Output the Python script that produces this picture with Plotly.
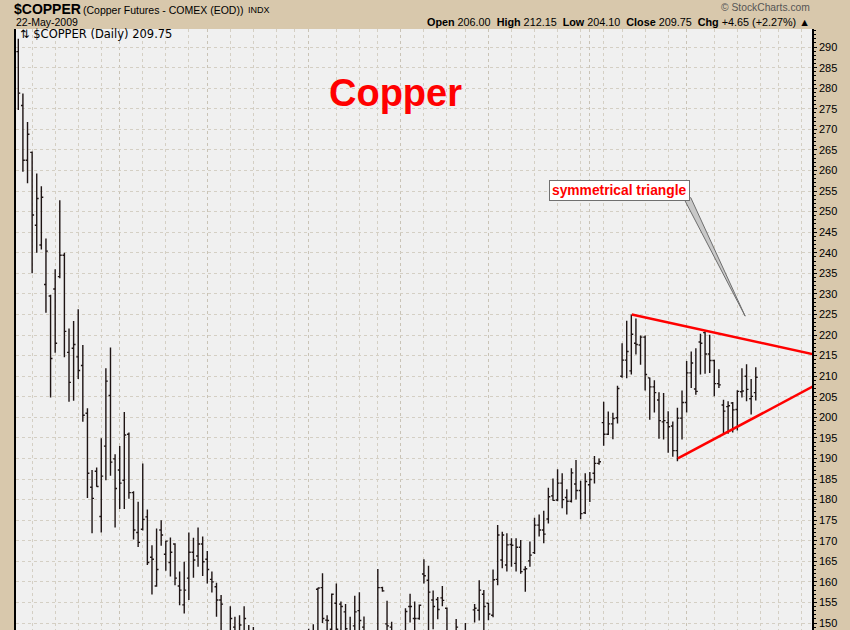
import plotly.graph_objects as go

# ---- data (trading-day index 0 = 2-Oct-2008 ... 160 = 22-May-2009) ----
opens = [288.9, 275.8, 262.5, 264.4, 246.7, 241.9, 232.3, 229.5, 231.2, 234.2,
         239.4, 215.8, 216.8, 214.7, 212.6, 201.0, 183.0, 186.9, 175.9, 193.0,
         205.3, 189.9, 187.2, 184.7, 195.9, 181.7, 172.0, 172.8, 175.8, 166.0,
         159.0, 172.6, 166.7, 164.7, 169.2, 159.0, 154.4, 160.9, 167.2, 166.3,
         169.2, 165.5, 160.6, 158.8, 155.6, 146.0, 145.0, 149.0, 147.0, 148.0,
         148.0, 144.0, 141.0, 139.0, 142.0, 138.0, 134.0, 136.0, 131.0, 132.0,
         134.0, 137.0, 140.0, 142.0, 146.0, 158.2, 158.6, 150.7, 148.5, 154.8,
         154.6, 152.7, 148.0, 149.3, 153.0, 149.0, 145.0, 142.0, 147.0, 158.6,
         149.8, 149.0, 146.0, 144.0, 147.0, 154.0, 151.1, 151.1, 161.9, 160.4,
         155.6, 155.7, 156.1, 153.6, 146.0, 146.0, 147.0, 145.0, 147.0, 153.2,
         153.1, 157.0, 154.8, 151.9, 160.6, 165.3, 164.1, 169.1, 164.5, 168.4,
         163.0, 165.1, 167.1, 173.8, 172.6, 175.3, 180.9, 179.9, 184.0, 180.5,
         179.6, 183.8, 182.2, 176.8, 183.6, 186.4, 188.8, 198.7, 195.9, 198.4,
         199.9, 210.0, 213.9, 211.3, 218.0, 217.6, 219.5, 209.6, 207.4, 204.2,
         198.9, 198.7, 197.9, 191.9, 199.8, 203.6, 210.8, 206.9, 218.3, 220.6,
         215.4, 213.8, 208.2, 203.0, 202.6, 203.5, 201.9, 206.2, 210.0, 204.5,
         206.0]
highs = [292.0, 278.7, 271.8, 264.6, 259.3, 256.2, 243.5, 229.8, 236.0, 252.8,
         240.0, 221.6, 223.4, 226.3, 217.6, 202.2, 187.2, 187.8, 194.9, 211.9,
         217.0, 191.0, 193.0, 201.3, 196.3, 182.0, 179.5, 188.8, 177.6, 168.9,
         173.0, 175.0, 170.0, 170.8, 169.4, 162.5, 164.9, 172.0, 170.7, 173.2,
         171.0, 167.5, 162.5, 159.8, 156.8, 147.5, 154.1, 151.5, 151.9, 154.1,
         149.5, 149.0, 146.0, 144.0, 147.0, 142.0, 139.0, 138.0, 134.0, 136.0,
         140.0, 143.0, 146.0, 148.6, 149.7, 158.6, 162.1, 151.9, 157.2, 159.6,
         155.2, 154.6, 151.5, 156.6, 157.5, 151.6, 147.5, 146.0, 163.1, 158.8,
         155.4, 150.3, 147.8, 147.5, 153.6, 157.1, 155.2, 154.5, 165.5, 163.9,
         157.9, 156.3, 159.0, 153.8, 147.5, 151.0, 147.9, 150.0, 147.9, 154.6,
         160.4, 158.0, 154.9, 163.0, 173.8, 172.2, 171.8, 170.6, 170.6, 170.2,
         163.8, 169.8, 175.6, 176.4, 177.3, 182.9, 185.1, 187.4, 186.4, 182.5,
         187.6, 189.6, 184.6, 186.4, 186.7, 190.6, 190.0, 203.8, 201.4, 201.1,
         207.7, 218.0, 223.5, 225.0, 224.0, 219.9, 219.9, 209.7, 209.0, 206.1,
         205.9, 201.5, 199.0, 202.3, 206.5, 213.7, 216.0, 216.8, 220.3, 220.9,
         220.1, 214.0, 211.7, 204.3, 203.9, 203.7, 206.6, 211.9, 212.9, 209.3,
         212.15]
lows = [274.7, 259.7, 256.9, 235.0, 240.0, 240.8, 225.4, 204.8, 215.7, 233.8,
        214.6, 203.8, 204.0, 209.3, 198.9, 180.4, 171.8, 183.1, 172.0, 184.7,
        185.8, 173.2, 177.7, 177.7, 180.2, 170.3, 168.5, 172.5, 164.1, 156.9,
        158.8, 168.8, 162.7, 161.3, 159.2, 154.3, 152.3, 155.6, 161.0, 163.7,
        161.4, 159.6, 157.4, 151.5, 146.0, 140.0, 144.0, 143.0, 145.0, 146.0,
        141.0, 139.0, 136.0, 134.0, 137.0, 132.0, 130.0, 128.0, 127.0, 129.0,
        131.0, 134.0, 137.0, 139.0, 141.0, 147.0, 150.0, 145.0, 147.0, 146.0,
        147.0, 146.0, 144.0, 147.0, 148.0, 144.0, 140.0, 138.0, 145.0, 157.6,
        148.0, 144.0, 141.0, 140.0, 146.0, 150.1, 147.0, 150.8, 159.6, 147.5,
        148.5, 150.9, 154.1, 146.0, 142.0, 144.0, 142.0, 143.0, 144.0, 150.1,
        150.6, 147.0, 150.7, 151.4, 159.2, 163.3, 162.5, 163.7, 162.5, 162.0,
        157.6, 163.7, 166.8, 171.0, 169.4, 174.2, 179.7, 179.6, 177.9, 176.4,
        179.3, 180.0, 175.2, 176.5, 179.4, 183.9, 188.5, 193.1, 195.7, 194.7,
        198.5, 209.6, 209.5, 210.4, 215.3, 212.8, 206.5, 199.4, 201.2, 194.8,
        194.6, 191.4, 190.4, 189.3, 194.6, 201.2, 207.1, 205.5, 210.4, 210.6,
        210.8, 205.1, 207.1, 196.2, 196.0, 196.3, 196.8, 204.8, 203.9, 200.7,
        204.1]
closes = [278.8, 262.5, 268.8, 249.2, 253.2, 253.5, 240.4, 214.3, 218.0, 239.4,
          220.9, 208.5, 217.7, 211.4, 200.5, 186.4, 180.3, 183.2, 185.7, 208.8,
          189.1, 182.7, 184.0, 195.7, 181.7, 172.6, 169.6, 175.2, 164.7, 165.5,
          163.0, 171.4, 169.9, 167.2, 160.9, 158.0, 158.0, 167.2, 165.3, 169.2,
          164.9, 163.0, 160.0, 155.6, 154.6, 142.0, 151.1, 147.0, 149.5, 151.1,
          143.0, 141.0, 138.0, 142.0, 139.0, 134.0, 137.0, 130.0, 132.0, 134.0,
          138.0, 141.0, 141.0, 147.0, 148.0, 158.5, 151.1, 150.6, 157.0, 148.5,
          154.0, 148.6, 146.0, 152.7, 150.6, 146.0, 142.0, 144.0, 158.6, 157.8,
          149.3, 146.0, 144.0, 145.0, 152.8, 154.0, 151.1, 154.3, 161.5, 157.5,
          154.0, 153.3, 155.5, 147.0, 145.0, 149.0, 144.0, 148.0, 146.0, 153.6,
          158.0, 154.0, 152.2, 160.5, 171.4, 171.4, 169.0, 168.9, 168.4, 162.5,
          163.2, 166.5, 173.8, 172.6, 171.6, 180.7, 179.8, 184.0, 180.0, 179.6,
          186.5, 182.2, 176.6, 184.4, 184.9, 188.8, 189.2, 195.9, 198.4, 199.7,
          207.0, 213.9, 216.0, 220.2, 217.7, 219.5, 210.4, 207.4, 206.0, 199.2,
          199.2, 197.7, 191.9, 199.8, 203.6, 210.8, 213.2, 206.3, 218.0, 215.4,
          213.8, 208.2, 207.9, 201.5, 202.8, 201.8, 206.3, 206.4, 206.8, 205.1,
          209.75]
bar_index = list(range(len(closes)))

# grid positions (bar index of first session of week / month)
month_grid = [22, 41, 63, 83, 102, 124, 145]
week_grid = [3, 8, 13, 18, 27, 32, 37, 46, 51, 56, 60, 69, 74, 78, 88, 93, 97,
             107, 112, 117, 122, 127, 131, 136, 141, 151, 156, 161, 165, 170]
price_ticks = list(range(150, 295, 5))

# analyst trend lines (bar index, price)
upper_line_x = [133.1, 173.0]
upper_line_y = [225.0, 215.2]
lower_line_x = [143.1, 173.9]
lower_line_y = [190.0, 208.4]
# callout
label_pos = (130.5, 255.2)
pointer_base_x = [144.3, 145.9]
pointer_base_y = 253.4
pointer_tip = (157.7, 224.6)

TAN = "#D8C8AC"
PLOTBG = "#F0F0F0"
GRID = "#D4CFC4"
BAR = "#1E1414"

fig = go.Figure()
fig.add_trace(go.Ohlc(
    x=bar_index, open=opens, high=highs, low=lows, close=closes,
    increasing=dict(line=dict(color=BAR, width=1.4)),
    decreasing=dict(line=dict(color=BAR, width=1.4)),
    tickwidth=0.42, showlegend=False, hoverinfo="skip"))

fig.add_trace(go.Scatter(x=upper_line_x, y=upper_line_y, mode="lines",
                         line=dict(color="#FF0000", width=2.5), showlegend=False,
                         hoverinfo="skip"))
fig.add_trace(go.Scatter(x=lower_line_x, y=lower_line_y, mode="lines",
                         line=dict(color="#FF0000", width=2.5), showlegend=False,
                         hoverinfo="skip", cliponaxis=False))

# callout pointer wedge
path = (f"M {pointer_base_x[0]},{pointer_base_y} L {pointer_base_x[1]},{pointer_base_y} "
        f"L {pointer_tip[0]},{pointer_tip[1]} Z")
fig.add_shape(type="path", path=path, xref="x", yref="y",
              fillcolor="#C8C8C8", line=dict(color="#6E6E6E", width=1), layer="above")

fig.update_layout(
    width=850, height=630,
    margin=dict(l=16, r=38, t=29, b=0),
    paper_bgcolor=TAN, plot_bgcolor=PLOTBG,
    font=dict(family="Arial, Liberation Sans, sans-serif", color="black", size=11),
    showlegend=False,
    xaxis=dict(
        range=[-0.5, 172.2], rangeslider=dict(visible=False),
        showticklabels=False, ticks="", zeroline=False,
        tickmode="array", tickvals=month_grid,
        showgrid=True, gridcolor="#C9C3B6", griddash="dot", gridwidth=1,
        minor=dict(tickmode="array", tickvals=week_grid, showgrid=True,
                   gridcolor=GRID, griddash="dot", gridwidth=1, ticks=""),
        showline=False, fixedrange=True),
    yaxis=dict(
        side="right", range=[148.3, 294.4],
        tickmode="array", tickvals=price_ticks,
        ticks="outside", ticklen=3, tickcolor="black", tickwidth=1,
        showline=True, linecolor="black", linewidth=1.5, mirror=True,
        showgrid=True, gridcolor=GRID, griddash="dot", gridwidth=1,
        zeroline=False,
        minor=dict(dtick=1, ticks="outside", ticklen=2, tickcolor="black",
                   showgrid=False),
        tickfont=dict(family="Arial, Liberation Sans, sans-serif", size=11, color="black"),
        fixedrange=True),
)

def px_x(px):
    return (px - 16) / 796.0

def px_y(py):
    return (630 - py) / 601.0

ann = [
    dict(text="<b>$COPPER</b>", x=px_x(12), y=px_y(9), font=dict(size=14)),
    dict(text="(Copper Futures - COMEX (EOD))", x=px_x(81), y=px_y(10), font=dict(size=10.5)),
    dict(text="INDX", x=px_x(246), y=px_y(10), font=dict(size=9)),
    dict(text="22-May-2009", x=px_x(14), y=px_y(22), font=dict(size=10.5)),
    dict(text="⇅ $COPPER (Daily) 209.75", x=px_x(18), y=px_y(34),
         font=dict(size=11.5, family="DejaVu Sans, Verdana, sans-serif")),
]
for a in ann:
    fig.add_annotation(xref="paper", yref="paper", xanchor="left", yanchor="middle",
                       showarrow=False, **a)

fig.add_annotation(xref="paper", yref="paper", x=px_x(812), y=px_y(7.5),
                   xanchor="right", yanchor="middle", showarrow=False,
                   text="© StockCharts.com", font=dict(size=10.3, color="#555555"))
fig.add_annotation(xref="paper", yref="paper", x=px_x(812), y=px_y(21.5),
                   xanchor="right", yanchor="middle", showarrow=False,
                   text="<b>Open</b> 206.00  <b>High</b> 212.15  <b>Low</b> 204.10  "
                        "<b>Close</b> 209.75  <b>Chg</b> +4.65 (+2.27%) ▲",
                   font=dict(size=10.8))

fig.add_annotation(xref="paper", yref="paper", x=px_x(395), y=px_y(93),
                   xanchor="center", yanchor="middle", showarrow=False,
                   text="<b>Copper</b>",
                   font=dict(size=38, color="#FF0000",
                             family="Arial, Liberation Sans, sans-serif"))

fig.add_annotation(xref="x", yref="y", x=label_pos[0], y=label_pos[1],
                   xanchor="center", yanchor="middle", showarrow=False,
                   text="<b>symmetrical triangle</b>",
                   font=dict(size=13.8, color="#FF0000"),
                   bgcolor="white", bordercolor="#707070", borderwidth=1, borderpad=2)

fig.write_html("out.html",
               config={"displayModeBar": False},
               post_script="document.body.style.margin='0px';document.body.style.padding='0px';")
